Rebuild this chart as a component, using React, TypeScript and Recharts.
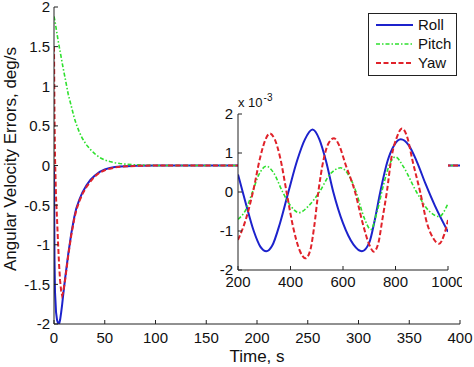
import { Label, Legend, Line, LineChart, XAxis, YAxis } from "recharts";

// main plot: time (s) and the three angular velocity errors (deg/s)
const mainTime = [0, 0.5, 1, 2, 3, 4, 5, 6, 7, 8, 9, 11, 14, 17, 20, 22, 25, 28, 32, 36, 40, 45, 50, 55, 60, 65, 72, 80, 100, 150, 200, 250, 300, 350, 400];
const mainRoll = [0, -1.2, -1.6, -1.85, -1.95, -1.99, -2.0, -1.95, -1.86, -1.76, -1.64, -1.42, -1.12, -0.86, -0.65, -0.54, -0.43, -0.34, -0.25, -0.18, -0.13, -0.08, -0.05, -0.03, -0.02, -0.012, -0.008, -0.004, 0, 0, 0, 0, 0, 0, 0];
const mainPitch = [1.88, 1.85, 1.82, 1.74, 1.66, 1.58, 1.51, 1.44, 1.37, 1.3, 1.23, 1.1, 0.9, 0.75, 0.6, 0.52, 0.42, 0.34, 0.26, 0.2, 0.15, 0.1, 0.07, 0.05, 0.035, 0.025, 0.015, 0.008, 0, 0, 0, 0, 0, 0, 0];
const mainYaw = [1.5, 0.6, 0.1, -0.4, -0.68, -0.98, -1.25, -1.45, -1.58, -1.64, -1.6, -1.44, -1.14, -0.88, -0.67, -0.56, -0.45, -0.36, -0.27, -0.2, -0.14, -0.09, -0.06, -0.04, -0.025, -0.015, -0.01, -0.005, 0, 0, 0, 0, 0, 0, 0];
const mainXTicks = [0, 50, 100, 150, 200, 250, 300, 350, 400];
const mainYTicks = [-2, -1.5, -1, -0.5, 0, 0.5, 1, 1.5, 2];

// inset: steady-state errors, values in units of 1e-3 deg/s
const insetRoll = [[200, 0.45], [230, -0.3], [260, -1.0], [285, -1.4], [308, -1.52], [330, -1.38], [360, -0.8], [392, 0], [425, 0.8], [455, 1.35], [484, 1.6], [510, 1.35], [535, 0.8], [563, 0], [600, -0.8], [640, -1.35], [672, -1.52], [700, -1.3], [720, -0.75], [742, 0], [770, 0.8], [795, 1.2], [820, 1.35], [850, 1.2], [880, 0.8], [915, 0.2], [950, -0.35], [1000, -1.02]];
const insetPitch = [[200, -0.7], [230, -0.45], [255, 0], [280, 0.45], [308, 0.66], [335, 0.5], [370, 0], [400, -0.35], [432, -0.53], [470, -0.35], [510, 0], [550, 0.45], [591, 0.62], [620, 0.45], [650, 0], [680, -0.65], [706, -0.96], [730, -0.5], [755, 0.2], [780, 0.75], [800, 0.9], [830, 0.65], [880, 0], [930, -0.5], [966, -0.63], [1000, -0.29]];
const insetYaw = [[200, -1.23], [230, -0.7], [257, 0], [285, 0.9], [305, 1.35], [321, 1.5], [340, 1.35], [360, 0.9], [385, 0], [410, -0.9], [435, -1.5], [457, -1.7], [475, -1.5], [490, -0.9], [506, 0], [525, 0.8], [545, 1.25], [566, 1.38], [585, 1.2], [610, 0.7], [646, 0], [675, -0.8], [700, -1.35], [717, -1.53], [735, -1.3], [750, -0.7], [767, 0], [785, 0.9], [805, 1.4], [825, 1.63], [845, 1.4], [865, 0.8], [894, 0], [920, -0.8], [945, -1.2], [966, -1.33], [985, -1.1], [1000, -0.72]];
const insetXTicks = [200, 400, 600, 800, 1000];
const insetYTicks = [-2, -1, 0, 1, 2];

const series = [
  { key: "roll", name: "Roll", color: "#1c22cc", dash: undefined as string | undefined, width: 2 },
  { key: "pitch", name: "Pitch", color: "#2ee02e", dash: "4 2 1.5 2", width: 1.6 },
  { key: "yaw", name: "Yaw", color: "#e0222a", dash: "5 2.5", width: 2 },
];

const FONT = '"Liberation Sans", Arial, sans-serif';
const AXIS = "#222";

const mainData = mainTime.map((t, i) => ({
  t,
  roll: mainRoll[i],
  pitch: mainPitch[i],
  yaw: mainYaw[i],
}));

const toPoints = (rows: number[][]) => rows.map(([x, y]) => ({ x, y }));
const insetData: Record<string, { x: number; y: number }[]> = {
  roll: toPoints(insetRoll),
  pitch: toPoints(insetPitch),
  yaw: toPoints(insetYaw),
};

type Side = "bottom" | "top" | "left" | "right";

// inward MATLAB-style ticks, label drawn only on bottom/left
function makeTick(side: Side, showLabel: boolean, gap: number) {
  return (props: any) => {
    const { x, y, payload } = props;
    const len = 4;
    let x2 = x;
    let y2 = y;
    if (side === "bottom") y2 = y - len;
    if (side === "top") y2 = y + len;
    if (side === "left") x2 = x + len;
    if (side === "right") x2 = x - len;
    return (
      <g>
        <line x1={x} y1={y} x2={x2} y2={y2} stroke={AXIS} strokeWidth={1} />
        {showLabel && side === "bottom" && (
          <text x={x} y={y + gap} textAnchor="middle" fontSize={15} fontFamily={FONT} fill="#111">
            {payload.value}
          </text>
        )}
        {showLabel && side === "left" && (
          <text x={x - gap} y={y} dy="0.36em" textAnchor="end" fontSize={15} fontFamily={FONT} fill="#111">
            {payload.value}
          </text>
        )}
      </g>
    );
  };
}

function LegendBox() {
  return (
    <div
      style={{
        width: 89,
        height: 63,
        border: `1px solid ${AXIS}`,
        background: "#fff",
        boxSizing: "border-box",
      }}
    >
      <svg width={87} height={61} style={{ display: "block" }}>
        {series.map((s, i) => (
          <g key={s.key}>
            <line x1={7} x2={44} y1={11 + i * 19} y2={11 + i * 19} stroke={s.color} strokeWidth={s.width} strokeDasharray={s.dash} />
            <text x={49} y={11 + i * 19} dy="0.36em" fontSize={15} fontFamily={FONT} fill="#111">
              {s.name}
            </text>
          </g>
        ))}
      </svg>
    </div>
  );
}

export default function App() {
  return (
    <div style={{ position: "absolute", left: 0, top: 0, width: 474, height: 367, background: "#fff", fontFamily: FONT }}>
      <LineChart width={474} height={367} data={mainData} margin={{ top: 7, right: 14, bottom: 0, left: 0 }}>
        <XAxis
          dataKey="t"
          type="number"
          domain={[0, 400]}
          ticks={mainXTicks}
          allowDataOverflow
          interval={0}
          height={43}
          tickSize={0}
          tickMargin={0}
          axisLine={{ stroke: AXIS }}
          tick={makeTick("bottom", true, 19)}
        >
          <Label
            content={() => (
              <text x={257} y={362} textAnchor="middle" fontSize={17} fontFamily={FONT} fill="#111">
                Time, s
              </text>
            )}
          />
        </XAxis>
        <XAxis
          xAxisId="top"
          orientation="top"
          type="number"
          domain={[0, 400]}
          ticks={mainXTicks}
          allowDataOverflow
          interval={0}
          height={0}
          tickSize={0}
          tickMargin={0}
          axisLine={{ stroke: AXIS }}
          tick={makeTick("top", false, 0)}
        />
        <YAxis
          type="number"
          domain={[-2, 2]}
          ticks={mainYTicks}
          allowDataOverflow
          interval={0}
          width={54}
          tickSize={0}
          tickMargin={0}
          axisLine={{ stroke: AXIS }}
          tick={makeTick("left", true, 4)}
        >
          <Label
            content={() => (
              <text x={16} y={159} transform="rotate(-90 16 159)" textAnchor="middle" fontSize={17} fontFamily={FONT} fill="#111">
                Angular Velocity Errors, deg/s
              </text>
            )}
          />
        </YAxis>
        <YAxis
          yAxisId="right"
          orientation="right"
          type="number"
          domain={[-2, 2]}
          ticks={mainYTicks}
          allowDataOverflow
          interval={0}
          width={0}
          tickSize={0}
          tickMargin={0}
          axisLine={{ stroke: AXIS }}
          tick={makeTick("right", false, 0)}
        />
        {series.map((s) => (
          <Line
            key={s.key}
            dataKey={s.key}
            name={s.name}
            type="linear"
            stroke={s.color}
            strokeWidth={s.width}
            strokeDasharray={s.dash}
            dot={false}
            activeDot={false}
            isAnimationActive={false}
          />
        ))}
        <Legend
          layout="horizontal"
          align="center"
          verticalAlign="middle"
          content={() => <LegendBox />}
          wrapperStyle={{ left: 368, top: 13, width: 89, height: 63 }}
        />
      </LineChart>

      {/* white backing of the inset plot area only */}
      <div style={{ position: "absolute", left: 238, top: 114, width: 210, height: 156, background: "#fff" }} />

      <div style={{ position: "absolute", left: 210, top: 90, width: 252, height: 200 }}>
        <LineChart width={252} height={200} margin={{ top: 24, right: 14, bottom: 0, left: 0 }}>
          <XAxis
            dataKey="x"
            type="number"
            domain={[200, 1000]}
            ticks={insetXTicks}
            allowDataOverflow
            interval={0}
            height={20}
            tickSize={0}
            tickMargin={0}
            axisLine={{ stroke: AXIS }}
            tick={makeTick("bottom", true, 17)}
          />
          <XAxis
            xAxisId="top"
            orientation="top"
            type="number"
            domain={[200, 1000]}
            ticks={insetXTicks}
            allowDataOverflow
            interval={0}
            height={0}
            tickSize={0}
            tickMargin={0}
            axisLine={{ stroke: AXIS }}
            tick={makeTick("top", false, 0)}
          />
          <YAxis
            type="number"
            domain={[-2, 2]}
            ticks={insetYTicks}
            allowDataOverflow
            interval={0}
            width={28}
            tickSize={0}
            tickMargin={0}
            axisLine={{ stroke: AXIS }}
            tick={makeTick("left", true, 5)}
          >
            <Label
              content={() => (
                <text x={28} y={17} fontSize={13} fontFamily={FONT} fill="#111">
                  x 10
                  <tspan dx={1} dy={-6} fontSize={10}>
                    -3
                  </tspan>
                </text>
              )}
            />
          </YAxis>
          <YAxis
            yAxisId="right"
            orientation="right"
            type="number"
            domain={[-2, 2]}
            ticks={insetYTicks}
            allowDataOverflow
            interval={0}
            width={0}
            tickSize={0}
            tickMargin={0}
            axisLine={{ stroke: AXIS }}
            tick={makeTick("right", false, 0)}
          />
          {series.map((s) => (
            <Line
              key={s.key}
              data={insetData[s.key]}
              dataKey="y"
              name={s.name}
              type="monotone"
              stroke={s.color}
              strokeWidth={s.width}
              strokeDasharray={s.dash}
              dot={false}
              activeDot={false}
              isAnimationActive={false}
            />
          ))}
        </LineChart>
      </div>
    </div>
  );
}
